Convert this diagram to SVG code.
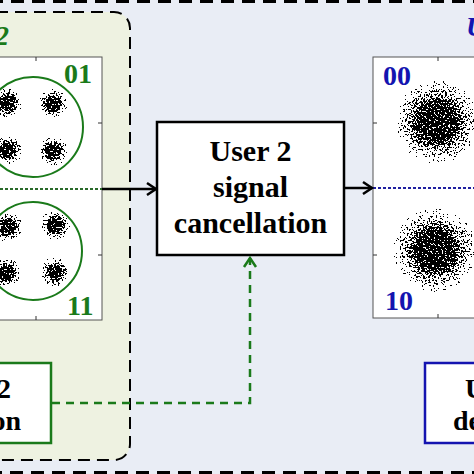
<svg xmlns="http://www.w3.org/2000/svg" width="474" height="474" viewBox="0 0 474 474">
<defs>
<style>
.t{font-family:"Liberation Serif","Times New Roman",serif;font-weight:bold;font-size:28px}
.c{font-size:30px}
.g{fill:#1a7a1a}
.b{fill:#1414b0}
.k{fill:#000}
.plot{fill:#fff;stroke:#555;stroke-width:1}
.tick{stroke:#333;stroke-width:1}
.circ{fill:none;stroke:#1a7a1a;stroke-width:2}
</style>
<radialGradient id="cl">
<stop offset="0" stop-color="#000" stop-opacity="1"/>
<stop offset="0.42" stop-color="#000" stop-opacity="1"/>
<stop offset="0.7" stop-color="#000" stop-opacity="0.7"/>
<stop offset="1" stop-color="#000" stop-opacity="0.5"/>
</radialGradient>
<filter id="spk" filterUnits="userSpaceOnUse" x="0" y="0" width="474" height="474" color-interpolation-filters="sRGB">
<feTurbulence type="fractalNoise" baseFrequency="0.55" numOctaves="2" seed="7" result="t"/>
<feColorMatrix in="t" type="matrix" values="0 0 0 0 0  0 0 0 0 0  0 0 0 0 0  1 0 0 0 0" result="n"/>
<feComposite in="n" in2="SourceGraphic" operator="arithmetic" k1="0" k2="3" k3="2" k4="-2.6" result="s"/>
<feComponentTransfer in="s" result="th"><feFuncA type="discrete" tableValues="0 1"/></feComponentTransfer>
<feFlood flood-color="#000"/>
<feComposite in2="th" operator="in"/>
</filter>
<marker id="ak" markerUnits="userSpaceOnUse" markerWidth="12" markerHeight="14" refX="9" refY="6" orient="auto" overflow="visible">
<path d="M0,0 L9,6 L0,12" fill="none" stroke="#000" stroke-width="2.5"/>
</marker>
<marker id="ag" markerUnits="userSpaceOnUse" markerWidth="12" markerHeight="14" refX="9" refY="6" orient="auto" overflow="visible">
<path d="M0,0 L9,6 L0,12" fill="none" stroke="#1a7a1a" stroke-width="2.5"/>
</marker>
</defs>

<rect x="0" y="0" width="474" height="474" fill="#e9edf5"/>
<rect x="-10" y="0.5" width="494" height="473" fill="none" stroke="#000" stroke-width="5" stroke-dasharray="13 8"/>

<g id="user2-panel">
<rect x="-20" y="12" width="150" height="448" rx="16" fill="#eef2e1" stroke="#000" stroke-width="2" stroke-dasharray="12 7"/>
<text class="t g" x="-5" y="45" font-style="italic">2</text>
</g>

<g id="user1-label">
<text class="t b" x="466" y="36" font-style="italic">U</text>
</g>

<g id="left-plot">
<rect class="plot" x="-5" y="57" width="107" height="263"/>
<path class="tick" d="M36,57 V61 M36,320 V316 M102,123 H98 M102,255 H98"/>
<g filter="url(#spk)">
<circle cx="8" cy="103" r="15" fill="url(#cl)"/>
<circle cx="53" cy="104" r="15" fill="url(#cl)"/>
<circle cx="8" cy="150" r="15" fill="url(#cl)"/>
<circle cx="53" cy="151" r="15" fill="url(#cl)"/>
<circle cx="8" cy="227" r="15" fill="url(#cl)"/>
<circle cx="55" cy="225" r="15" fill="url(#cl)"/>
<circle cx="7" cy="273" r="15" fill="url(#cl)"/>
<circle cx="55" cy="272" r="15" fill="url(#cl)"/>
</g>
<circle class="circ" cx="33" cy="127" r="50"/>
<circle class="circ" cx="33" cy="251" r="49"/>
<text class="t g" x="64" y="83">01</text>
<text class="t g" x="67" y="315">11</text>
</g>

<g id="right-plot">
<rect class="plot" x="373" y="57" width="110" height="261"/>
<path class="tick" d="M438,57 V61 M438,318 V314 M373,123 H377 M373,255 H377"/>
<g filter="url(#spk)">
<circle cx="437" cy="122" r="42" fill="url(#cl)"/>
<circle cx="435" cy="250" r="42" fill="url(#cl)"/>
</g>
<text class="t b" x="383" y="85">00</text>
<text class="t b" x="385" y="310">10</text>
</g>

<g id="cancellation">
<rect x="157" y="122" width="187" height="133" fill="#fff" stroke="#000" stroke-width="2.5"/>
<text class="t c k" x="250.5" y="161" text-anchor="middle">User 2</text>
<text class="t c k" x="250.5" y="197" text-anchor="middle">signal</text>
<text class="t c k" x="250.5" y="233" text-anchor="middle">cancellation</text>
</g>

<g id="user2-detection">
<rect x="-10" y="363" width="61" height="80" fill="#fff" stroke="#1a7a1a" stroke-width="2.5"/>
<text class="t k" x="11" y="398" text-anchor="end">2</text>
<text class="t k" x="21" y="430" text-anchor="end">on</text>
</g>

<g id="user1-detection">
<rect x="425" y="363" width="60" height="80" fill="#fff" stroke="#1414b0" stroke-width="2.5"/>
<text class="t k" x="465" y="398">U</text>
<text class="t k" x="453" y="430">de</text>
</g>

<g id="connectors">
<line x1="0" y1="189" x2="102" y2="189" stroke="#2a6a2a" stroke-width="2" stroke-dasharray="3 2"/>
<line x1="373" y1="188" x2="474" y2="188" stroke="#2020a0" stroke-width="2" stroke-dasharray="3 2"/>
<line x1="102" y1="189" x2="156" y2="189" stroke="#000" stroke-width="2.5" marker-end="url(#ak)"/>
<line x1="344" y1="188" x2="372" y2="188" stroke="#000" stroke-width="2.5" marker-end="url(#ak)"/>
<path d="M52,403 H250 V258" fill="none" stroke="#1a7a1a" stroke-width="2.5" stroke-dasharray="8 6" marker-end="url(#ag)"/>
</g>
</svg>
